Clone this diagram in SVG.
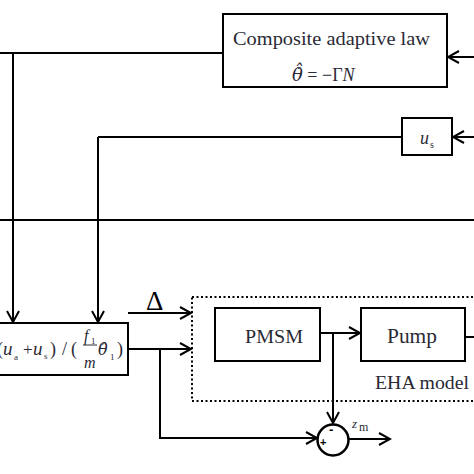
<svg xmlns="http://www.w3.org/2000/svg" width="474" height="474" viewBox="0 0 474 474">
<style>
.box{fill:#fff;stroke:#000;stroke-width:2}
.ln{fill:none;stroke:#000;stroke-width:2}
.arr{fill:none;stroke:#000;stroke-width:2;marker-end:url(#ah)}
.t{font-family:"Liberation Serif","DejaVu Serif",serif;fill:#2a2a35}
.d{font-family:"DejaVu Serif",serif;fill:#2a2a35}
.i{font-style:italic}
</style>
<defs>
<marker id="ah" markerUnits="userSpaceOnUse" viewBox="0 0 14 14" refX="12" refY="7" markerWidth="14" markerHeight="14" orient="auto">
<path d="M1,1 L12,7 L1,13" fill="none" stroke="#000" stroke-width="2"/>
</marker>
</defs>
<rect width="474" height="474" fill="#fff"/>
<g id="connectors">
<path class="arr" d="M474,57 H448"/>
<path class="ln" d="M223,53 H0"/>
<path class="arr" d="M13,53 V322"/>
<path class="arr" d="M474,137 H453"/>
<path class="ln" d="M402,137 H98"/>
<path class="arr" d="M98,137 V322"/>
<path class="ln" d="M0,220 H474"/>
<path class="arr" d="M128,313 H191"/>
<path class="arr" d="M128,349 H191"/>
<path class="arr" d="M160,349 V438 H317"/>
<path class="arr" d="M321,333 H360"/>
<path class="arr" d="M333,333 V423"/>
<path class="ln" d="M465,337 H474"/>
<path class="arr" d="M349,439 H390"/>
</g>
<g id="eha-model">
<rect x="192" y="297" width="300" height="104" fill="none" stroke="#000" stroke-width="2" stroke-dasharray="2,2.5"/>
<text class="t" x="375" y="389" font-size="19" textLength="94" lengthAdjust="spacingAndGlyphs">EHA model</text>
</g>
<g id="composite">
<rect class="box" x="223" y="14" width="224" height="73"/>
<text class="t" x="233" y="45" font-size="19" textLength="197" lengthAdjust="spacingAndGlyphs">Composite adaptive law</text>
<text x="292" y="81" font-size="18"><tspan class="d i">θ̇̂</tspan><tspan class="t"> = −Γ</tspan><tspan class="t i">N</tspan></text>
</g>
<g id="us">
<rect class="box" x="402" y="118" width="50" height="37"/>
<text class="t i" x="420" y="144" font-size="18">u</text>
<text class="t" x="430" y="148" font-size="10">s</text>
</g>
<g id="control">
<rect class="box" x="-10" y="323" width="138" height="52"/>
<text class="t" x="-3" y="355" font-size="18">(</text>
<text class="t i" x="3" y="355" font-size="19">u</text>
<text class="t" x="14" y="360" font-size="9">a</text>
<text class="t" x="23" y="355" font-size="17">+</text>
<text class="t i" x="33" y="355" font-size="19">u</text>
<text class="t" x="44" y="359" font-size="9">s</text>
<text class="t" x="50" y="355" font-size="18">)</text>
<text class="t" x="62" y="355" font-size="18">/</text>
<text class="t" x="71" y="355" font-size="18">(</text>
<text class="t i" x="84" y="341" font-size="16">f</text>
<text class="t" x="91" y="344" font-size="9">1</text>
<path d="M83,345 H97" stroke="#2a2a35" stroke-width="1"/>
<text class="t i" x="84" y="368" font-size="16">m</text>
<text class="d i" x="98" y="355" font-size="16">θ̂</text>
<text class="t" x="110" y="360" font-size="9">1</text>
<text class="t" x="117" y="355" font-size="18">)</text>
</g>
<g id="delta">
<text x="146" y="310" font-family="Liberation Serif,serif" font-size="27" fill="#000">Δ</text>
</g>
<g id="pmsm">
<rect class="box" x="215" y="308" width="105" height="53"/>
<text class="t" x="274" y="343" font-size="19" text-anchor="middle" textLength="58" lengthAdjust="spacingAndGlyphs">PMSM</text>
</g>
<g id="pump">
<rect class="box" x="361" y="308" width="104" height="53"/>
<text class="t" x="412" y="343" font-size="20" text-anchor="middle" textLength="50" lengthAdjust="spacingAndGlyphs">Pump</text>
</g>
<g id="sum">
<circle cx="333" cy="440" r="15.5" fill="#fff" stroke="#000" stroke-width="2.5"/>
<text x="329" y="434" font-family="Liberation Sans,sans-serif" font-size="13" font-weight="bold">-</text>
<text x="320" y="446" font-family="Liberation Sans,sans-serif" font-size="11" font-weight="bold">+</text>
<text class="t i" x="352" y="428" font-size="13">z</text>
<text class="t" x="359" y="431" font-size="12">m</text>
</g>
</svg>
